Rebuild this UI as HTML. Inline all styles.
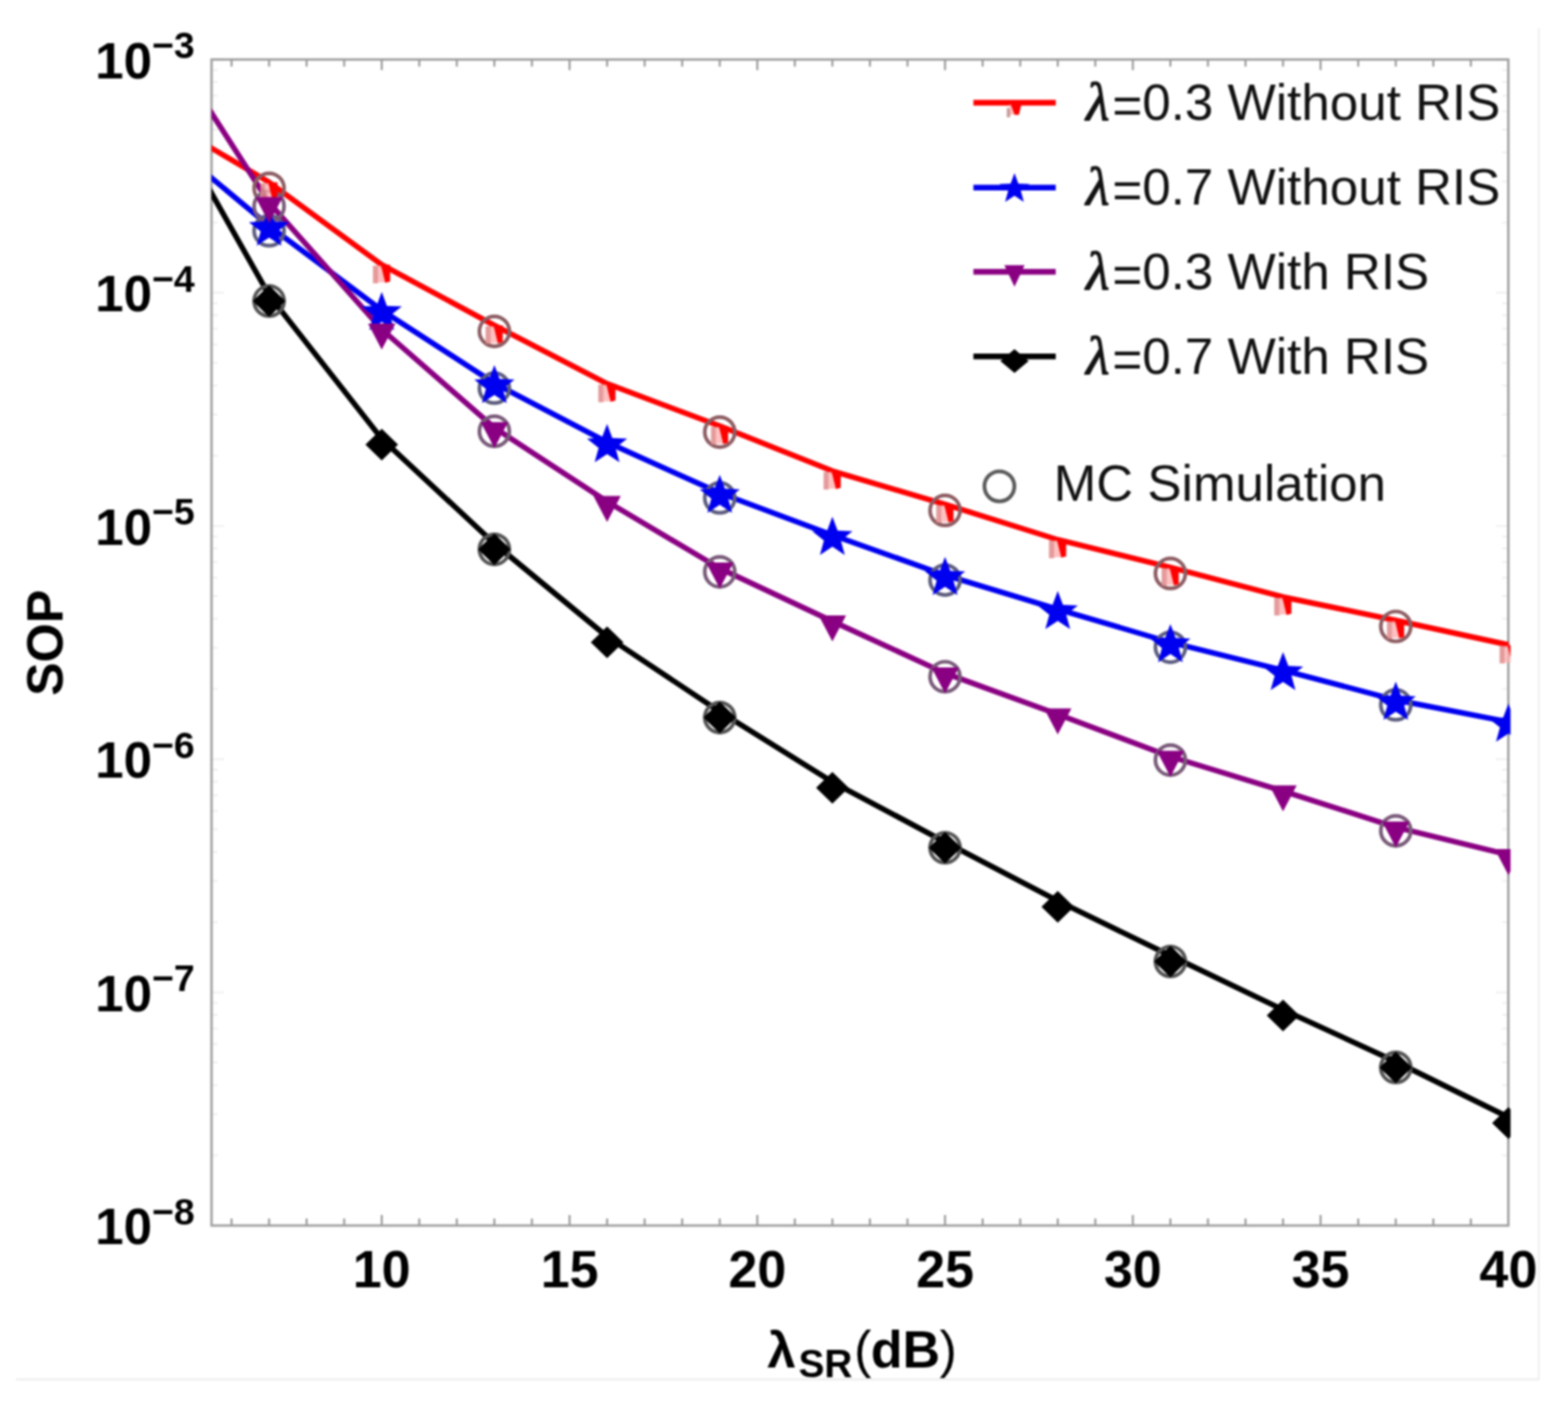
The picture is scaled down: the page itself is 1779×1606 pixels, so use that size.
<!DOCTYPE html>
<html><head><meta charset="utf-8"><title>SOP vs lambda_SR</title>
<style>html,body{margin:0;padding:0;background:#fff;}svg{display:block;filter:blur(1.1px);}</style>
</head><body>
<svg width="1779" height="1606" viewBox="0 0 1779 1606">
<rect x="0" y="0" width="1779" height="1606" fill="#ffffff"/>
<defs><clipPath id="pc"><rect x="240.0" y="67.5" width="1473.8" height="1322.5"/></clipPath></defs>
<line x1="1745.8" y1="32" x2="1745.8" y2="1565" stroke="#eeeeee" stroke-width="2"/>
<line x1="18" y1="1564.5" x2="1746" y2="1564.5" stroke="#ebebeb" stroke-width="2"/>
<path d="M262.7,1390.0 v-8 M262.7,67.5 v8 M305.3,1390.0 v-8 M305.3,67.5 v8 M347.9,1390.0 v-8 M347.9,67.5 v8 M390.5,1390.0 v-8 M390.5,67.5 v8 M433.1,1390.0 v-12 M433.1,67.5 v12 M475.7,1390.0 v-8 M475.7,67.5 v8 M518.3,1390.0 v-8 M518.3,67.5 v8 M560.9,1390.0 v-8 M560.9,67.5 v8 M603.5,1390.0 v-8 M603.5,67.5 v8 M646.2,1390.0 v-12 M646.2,67.5 v12 M688.8,1390.0 v-8 M688.8,67.5 v8 M731.4,1390.0 v-8 M731.4,67.5 v8 M774.0,1390.0 v-8 M774.0,67.5 v8 M816.6,1390.0 v-8 M816.6,67.5 v8 M859.2,1390.0 v-12 M859.2,67.5 v12 M901.8,1390.0 v-8 M901.8,67.5 v8 M944.4,1390.0 v-8 M944.4,67.5 v8 M987.0,1390.0 v-8 M987.0,67.5 v8 M1029.6,1390.0 v-8 M1029.6,67.5 v8 M1072.2,1390.0 v-12 M1072.2,67.5 v12 M1114.9,1390.0 v-8 M1114.9,67.5 v8 M1157.5,1390.0 v-8 M1157.5,67.5 v8 M1200.1,1390.0 v-8 M1200.1,67.5 v8 M1242.7,1390.0 v-8 M1242.7,67.5 v8 M1285.3,1390.0 v-12 M1285.3,67.5 v12 M1327.9,1390.0 v-8 M1327.9,67.5 v8 M1370.5,1390.0 v-8 M1370.5,67.5 v8 M1413.1,1390.0 v-8 M1413.1,67.5 v8 M1455.7,1390.0 v-8 M1455.7,67.5 v8 M1498.3,1390.0 v-12 M1498.3,67.5 v12 M1541.0,1390.0 v-8 M1541.0,67.5 v8 M1583.6,1390.0 v-8 M1583.6,67.5 v8 M1626.2,1390.0 v-8 M1626.2,67.5 v8 M1668.8,1390.0 v-8 M1668.8,67.5 v8" stroke="#969696" stroke-width="2.2" fill="none"/>
<path d="M240.0,67.5 h14 M1711.3,67.5 h-14 M240.0,252.4 h7 M1711.3,252.4 h-7 M240.0,205.8 h7 M1711.3,205.8 h-7 M240.0,172.8 h7 M1711.3,172.8 h-7 M240.0,147.1 h7 M1711.3,147.1 h-7 M240.0,126.2 h7 M1711.3,126.2 h-7 M240.0,108.5 h7 M1711.3,108.5 h-7 M240.0,93.1 h7 M1711.3,93.1 h-7 M240.0,79.6 h7 M1711.3,79.6 h-7 M240.0,332.0 h14 M1711.3,332.0 h-14 M240.0,516.9 h7 M1711.3,516.9 h-7 M240.0,470.3 h7 M1711.3,470.3 h-7 M240.0,437.3 h7 M1711.3,437.3 h-7 M240.0,411.6 h7 M1711.3,411.6 h-7 M240.0,390.7 h7 M1711.3,390.7 h-7 M240.0,373.0 h7 M1711.3,373.0 h-7 M240.0,357.6 h7 M1711.3,357.6 h-7 M240.0,344.1 h7 M1711.3,344.1 h-7 M240.0,596.5 h14 M1711.3,596.5 h-14 M240.0,781.4 h7 M1711.3,781.4 h-7 M240.0,734.8 h7 M1711.3,734.8 h-7 M240.0,701.8 h7 M1711.3,701.8 h-7 M240.0,676.1 h7 M1711.3,676.1 h-7 M240.0,655.2 h7 M1711.3,655.2 h-7 M240.0,637.5 h7 M1711.3,637.5 h-7 M240.0,622.1 h7 M1711.3,622.1 h-7 M240.0,608.6 h7 M1711.3,608.6 h-7 M240.0,861.0 h14 M1711.3,861.0 h-14 M240.0,1045.9 h7 M1711.3,1045.9 h-7 M240.0,999.3 h7 M1711.3,999.3 h-7 M240.0,966.3 h7 M1711.3,966.3 h-7 M240.0,940.6 h7 M1711.3,940.6 h-7 M240.0,919.7 h7 M1711.3,919.7 h-7 M240.0,902.0 h7 M1711.3,902.0 h-7 M240.0,886.6 h7 M1711.3,886.6 h-7 M240.0,873.1 h7 M1711.3,873.1 h-7 M240.0,1125.5 h14 M1711.3,1125.5 h-14 M240.0,1310.4 h7 M1711.3,1310.4 h-7 M240.0,1263.8 h7 M1711.3,1263.8 h-7 M240.0,1230.8 h7 M1711.3,1230.8 h-7 M240.0,1205.1 h7 M1711.3,1205.1 h-7 M240.0,1184.2 h7 M1711.3,1184.2 h-7 M240.0,1166.5 h7 M1711.3,1166.5 h-7 M240.0,1151.1 h7 M1711.3,1151.1 h-7 M240.0,1137.6 h7 M1711.3,1137.6 h-7" stroke="#efefef" stroke-width="2" fill="none"/>
<rect x="240.0" y="67.5" width="1471.3" height="1322.5" fill="none" stroke="#9c9c9c" stroke-width="2.6"/>
<g clip-path="url(#pc)" fill="none" stroke-width="6.2" stroke-linejoin="round">
<path d="M177.4,130.9 L305.3,206.7 L433.1,300.3 L560.9,368.9 L688.8,435.2 L816.6,483.2 L944.4,534.2 L1072.2,572.0 L1200.1,612.1 L1327.9,643.5 L1455.7,677.1 L1583.6,703.6 L1711.4,731.4" stroke="#ff0000"/>
<path d="M177.4,149.6 L305.3,256.2 L433.1,351.8 L560.9,434.7 L688.8,501.6 L816.6,559.2 L944.4,606.8 L1072.2,652.3 L1200.1,691.0 L1327.9,728.6 L1455.7,760.2 L1583.6,793.9 L1711.4,818.7" stroke="#0000f0"/>
<path d="M177.4,30.6 L305.3,229.9 L433.1,373.5 L560.9,485.2 L688.8,568.9 L816.6,644.6 L944.4,704.6 L1072.2,763.5 L1200.1,810.1 L1327.9,858.1 L1455.7,897.2 L1583.6,938.3 L1711.4,969.6" stroke="#8a0082"/>
<path d="M177.4,108.3 L305.3,334.8 L433.1,497.7 L560.9,616.5 L688.8,722.0 L816.6,807.2 L944.4,886.9 L1072.2,954.9 L1200.1,1021.8 L1327.9,1083.9 L1455.7,1145.2 L1583.6,1204.1 L1711.4,1267.1" stroke="#000000"/>
</g>
<g clip-path="url(#pc)" fill="none" stroke-width="4.2">
<circle cx="305.3" cy="213.6" r="17" stroke="#8c5c62"/>
<circle cx="560.9" cy="375.8" r="17" stroke="#8c5c62"/>
<circle cx="816.6" cy="490.1" r="17" stroke="#8c5c62"/>
<circle cx="1072.2" cy="578.9" r="17" stroke="#8c5c62"/>
<circle cx="1327.9" cy="650.4" r="17" stroke="#8c5c62"/>
<circle cx="1583.6" cy="710.5" r="17" stroke="#8c5c62"/>
<circle cx="305.3" cy="261.7" r="17" stroke="#5c5c80"/>
<circle cx="560.9" cy="440.2" r="17" stroke="#5c5c80"/>
<circle cx="816.6" cy="564.7" r="17" stroke="#5c5c80"/>
<circle cx="1072.2" cy="657.8" r="17" stroke="#5c5c80"/>
<circle cx="1327.9" cy="734.1" r="17" stroke="#5c5c80"/>
<circle cx="1583.6" cy="799.4" r="17" stroke="#5c5c80"/>
<circle cx="305.3" cy="233.9" r="17" stroke="#785a78"/>
<circle cx="560.9" cy="489.2" r="17" stroke="#785a78"/>
<circle cx="816.6" cy="648.6" r="17" stroke="#785a78"/>
<circle cx="1072.2" cy="767.5" r="17" stroke="#785a78"/>
<circle cx="1327.9" cy="862.1" r="17" stroke="#785a78"/>
<circle cx="1583.6" cy="942.3" r="17" stroke="#785a78"/>
<circle cx="305.3" cy="341.4" r="17" stroke="#555555"/>
<circle cx="560.9" cy="623.1" r="17" stroke="#555555"/>
<circle cx="816.6" cy="813.8" r="17" stroke="#555555"/>
<circle cx="1072.2" cy="961.5" r="17" stroke="#555555"/>
<circle cx="1327.9" cy="1090.5" r="17" stroke="#555555"/>
<circle cx="1583.6" cy="1210.7" r="17" stroke="#555555"/>
</g>
<g clip-path="url(#pc)">
<rect x="295.3" y="207.7" width="6.0" height="20.0" fill="#e08a8a" opacity="0.85"/>
<path d="M301.3,207.7 L305.3,207.7 L309.3,226.7 L301.3,226.7Z" fill="#ffb0b0" opacity="0.8"/>
<path d="M304.3,206.7 L314.8,206.7 L314.8,225.7 L309.3,227.2Z" fill="#ff0000"/>
<rect x="423.1" y="301.3" width="6.0" height="20.0" fill="#e08a8a" opacity="0.85"/>
<path d="M429.1,301.3 L433.1,301.3 L437.1,320.3 L429.1,320.3Z" fill="#ffb0b0" opacity="0.8"/>
<path d="M432.1,300.3 L442.6,300.3 L442.6,319.3 L437.1,320.8Z" fill="#ff0000"/>
<rect x="550.9" y="369.9" width="6.0" height="20.0" fill="#e08a8a" opacity="0.85"/>
<path d="M556.9,369.9 L560.9,369.9 L564.9,388.9 L556.9,388.9Z" fill="#ffb0b0" opacity="0.8"/>
<path d="M559.9,368.9 L570.4,368.9 L570.4,387.9 L564.9,389.4Z" fill="#ff0000"/>
<rect x="678.8" y="436.2" width="6.0" height="20.0" fill="#e08a8a" opacity="0.85"/>
<path d="M684.8,436.2 L688.8,436.2 L692.8,455.2 L684.8,455.2Z" fill="#ffb0b0" opacity="0.8"/>
<path d="M687.8,435.2 L698.3,435.2 L698.3,454.2 L692.8,455.7Z" fill="#ff0000"/>
<rect x="806.6" y="484.2" width="6.0" height="20.0" fill="#e08a8a" opacity="0.85"/>
<path d="M812.6,484.2 L816.6,484.2 L820.6,503.2 L812.6,503.2Z" fill="#ffb0b0" opacity="0.8"/>
<path d="M815.6,483.2 L826.1,483.2 L826.1,502.2 L820.6,503.7Z" fill="#ff0000"/>
<rect x="934.4" y="535.2" width="6.0" height="20.0" fill="#e08a8a" opacity="0.85"/>
<path d="M940.4,535.2 L944.4,535.2 L948.4,554.2 L940.4,554.2Z" fill="#ffb0b0" opacity="0.8"/>
<path d="M943.4,534.2 L953.9,534.2 L953.9,553.2 L948.4,554.7Z" fill="#ff0000"/>
<rect x="1062.2" y="573.0" width="6.0" height="20.0" fill="#e08a8a" opacity="0.85"/>
<path d="M1068.2,573.0 L1072.2,573.0 L1076.2,592.0 L1068.2,592.0Z" fill="#ffb0b0" opacity="0.8"/>
<path d="M1071.2,572.0 L1081.8,572.0 L1081.8,591.0 L1076.2,592.5Z" fill="#ff0000"/>
<rect x="1190.1" y="613.1" width="6.0" height="20.0" fill="#e08a8a" opacity="0.85"/>
<path d="M1196.1,613.1 L1200.1,613.1 L1204.1,632.1 L1196.1,632.1Z" fill="#ffb0b0" opacity="0.8"/>
<path d="M1199.1,612.1 L1209.6,612.1 L1209.6,631.1 L1204.1,632.6Z" fill="#ff0000"/>
<rect x="1317.9" y="644.5" width="6.0" height="20.0" fill="#e08a8a" opacity="0.85"/>
<path d="M1323.9,644.5 L1327.9,644.5 L1331.9,663.5 L1323.9,663.5Z" fill="#ffb0b0" opacity="0.8"/>
<path d="M1326.9,643.5 L1337.4,643.5 L1337.4,662.5 L1331.9,664.0Z" fill="#ff0000"/>
<rect x="1445.7" y="678.1" width="6.0" height="20.0" fill="#e08a8a" opacity="0.85"/>
<path d="M1451.7,678.1 L1455.7,678.1 L1459.7,697.1 L1451.7,697.1Z" fill="#ffb0b0" opacity="0.8"/>
<path d="M1454.7,677.1 L1465.2,677.1 L1465.2,696.1 L1459.7,697.6Z" fill="#ff0000"/>
<rect x="1573.6" y="704.6" width="6.0" height="20.0" fill="#e08a8a" opacity="0.85"/>
<path d="M1579.6,704.6 L1583.6,704.6 L1587.6,723.6 L1579.6,723.6Z" fill="#ffb0b0" opacity="0.8"/>
<path d="M1582.6,703.6 L1593.1,703.6 L1593.1,722.6 L1587.6,724.1Z" fill="#ff0000"/>
<rect x="1701.4" y="732.4" width="6.0" height="20.0" fill="#e08a8a" opacity="0.85"/>
<path d="M1707.4,732.4 L1711.4,732.4 L1715.4,751.4 L1707.4,751.4Z" fill="#ffb0b0" opacity="0.8"/>
<path d="M1710.4,731.4 L1720.9,731.4 L1720.9,750.4 L1715.4,751.9Z" fill="#ff0000"/>
<path d="M305.3,235.4 L311.2,251.2 L328.1,251.9 L314.9,262.5 L319.4,278.8 L305.3,269.4 L291.2,278.8 L295.7,262.5 L282.4,251.9 L299.3,251.2Z" fill="#0000f0"/>
<path d="M433.1,331.0 L439.0,346.9 L455.9,347.6 L442.7,358.1 L447.2,374.5 L433.1,365.1 L419.0,374.5 L423.5,358.1 L410.3,347.6 L427.2,346.9Z" fill="#0000f0"/>
<path d="M560.9,413.9 L566.9,429.7 L583.8,430.5 L570.5,441.0 L575.0,457.3 L560.9,448.0 L546.8,457.3 L551.3,441.0 L538.1,430.5 L555.0,429.7Z" fill="#0000f0"/>
<path d="M688.8,480.8 L694.7,496.7 L711.6,497.4 L698.3,507.9 L702.9,524.2 L688.8,514.9 L674.7,524.2 L679.2,507.9 L665.9,497.4 L682.8,496.7Z" fill="#0000f0"/>
<path d="M816.6,538.4 L822.5,554.2 L839.4,555.0 L826.2,565.5 L830.7,581.8 L816.6,572.5 L802.5,581.8 L807.0,565.5 L793.8,555.0 L810.7,554.2Z" fill="#0000f0"/>
<path d="M944.4,586.0 L950.3,601.8 L967.2,602.6 L954.0,613.1 L958.5,629.4 L944.4,620.1 L930.3,629.4 L934.8,613.1 L921.6,602.6 L938.5,601.8Z" fill="#0000f0"/>
<path d="M1072.2,631.5 L1078.2,647.4 L1095.1,648.1 L1081.8,658.6 L1086.4,674.9 L1072.2,665.6 L1058.1,674.9 L1062.7,658.6 L1049.4,648.1 L1066.3,647.4Z" fill="#0000f0"/>
<path d="M1200.1,670.2 L1206.0,686.1 L1222.9,686.8 L1209.7,697.3 L1214.2,713.6 L1200.1,704.3 L1186.0,713.6 L1190.5,697.3 L1177.3,686.8 L1194.2,686.1Z" fill="#0000f0"/>
<path d="M1327.9,707.8 L1333.8,723.6 L1350.7,724.3 L1337.5,734.9 L1342.0,751.2 L1327.9,741.8 L1313.8,751.2 L1318.3,734.9 L1305.1,724.3 L1322.0,723.6Z" fill="#0000f0"/>
<path d="M1455.7,739.4 L1461.7,755.2 L1478.6,756.0 L1465.3,766.5 L1469.8,782.8 L1455.7,773.5 L1441.6,782.8 L1446.2,766.5 L1432.9,756.0 L1449.8,755.2Z" fill="#0000f0"/>
<path d="M1583.6,773.1 L1589.5,789.0 L1606.4,789.7 L1593.2,800.2 L1597.7,816.5 L1583.6,807.2 L1569.5,816.5 L1574.0,800.2 L1560.7,789.7 L1577.6,789.0Z" fill="#0000f0"/>
<path d="M1711.4,797.9 L1717.3,813.7 L1734.2,814.5 L1721.0,825.0 L1725.5,841.3 L1711.4,832.0 L1697.3,841.3 L1701.8,825.0 L1688.6,814.5 L1705.5,813.7Z" fill="#0000f0"/>
<path d="M289.8,223.4 L320.8,223.4 L305.3,252.9Z" fill="#8a0082"/>
<path d="M417.6,367.0 L448.6,367.0 L433.1,396.5Z" fill="#8a0082"/>
<path d="M545.4,478.7 L576.4,478.7 L560.9,508.2Z" fill="#8a0082"/>
<path d="M673.3,562.4 L704.3,562.4 L688.8,591.9Z" fill="#8a0082"/>
<path d="M801.1,638.1 L832.1,638.1 L816.6,667.6Z" fill="#8a0082"/>
<path d="M928.9,698.1 L959.9,698.1 L944.4,727.6Z" fill="#8a0082"/>
<path d="M1056.8,757.0 L1087.8,757.0 L1072.2,786.5Z" fill="#8a0082"/>
<path d="M1184.6,803.6 L1215.6,803.6 L1200.1,833.1Z" fill="#8a0082"/>
<path d="M1312.4,851.6 L1343.4,851.6 L1327.9,881.1Z" fill="#8a0082"/>
<path d="M1440.2,890.7 L1471.2,890.7 L1455.7,920.2Z" fill="#8a0082"/>
<path d="M1568.1,931.8 L1599.1,931.8 L1583.6,961.3Z" fill="#8a0082"/>
<path d="M1695.9,963.1 L1726.9,963.1 L1711.4,992.6Z" fill="#8a0082"/>
<path d="M305.3,323.4 L323.8,341.4 L305.3,359.4 L286.8,341.4Z" fill="#000"/>
<path d="M433.1,486.3 L451.6,504.3 L433.1,522.3 L414.6,504.3Z" fill="#000"/>
<path d="M560.9,605.1 L579.4,623.1 L560.9,641.1 L542.4,623.1Z" fill="#000"/>
<path d="M688.8,710.6 L707.3,728.6 L688.8,746.6 L670.3,728.6Z" fill="#000"/>
<path d="M816.6,795.8 L835.1,813.8 L816.6,831.8 L798.1,813.8Z" fill="#000"/>
<path d="M944.4,875.5 L962.9,893.5 L944.4,911.5 L925.9,893.5Z" fill="#000"/>
<path d="M1072.2,943.5 L1090.8,961.5 L1072.2,979.5 L1053.8,961.5Z" fill="#000"/>
<path d="M1200.1,1010.4 L1218.6,1028.4 L1200.1,1046.4 L1181.6,1028.4Z" fill="#000"/>
<path d="M1327.9,1072.5 L1346.4,1090.5 L1327.9,1108.5 L1309.4,1090.5Z" fill="#000"/>
<path d="M1455.7,1133.8 L1474.2,1151.8 L1455.7,1169.8 L1437.2,1151.8Z" fill="#000"/>
<path d="M1583.6,1192.7 L1602.1,1210.7 L1583.6,1228.7 L1565.1,1210.7Z" fill="#000"/>
<path d="M1711.4,1255.7 L1729.9,1273.7 L1711.4,1291.7 L1692.9,1273.7Z" fill="#000"/>
</g>
<line x1="1104.4" y1="116.6" x2="1197.8" y2="116.6" stroke="#ff0000" stroke-width="6.5"/>
<rect x="1142.3" y="122.5" width="3.8" height="10.5" fill="#c89a9a"/>
<path d="M1145.5,118.5 L1146.7,118.5 L1150,130 L1146,130Z" fill="#ffb8b8"/>
<path d="M1146.7,118.5 L1158.8,118.5 L1156,130.2 L1151,130.2Z" fill="#ff0000"/>
<line x1="1104.4" y1="212.8" x2="1197.8" y2="212.8" stroke="#0000f0" stroke-width="6.5"/>
<path d="M1151.0,196.3 L1155.4,208.2 L1168.1,208.7 L1158.2,216.6 L1161.6,228.9 L1151.0,221.9 L1140.4,228.9 L1143.8,216.6 L1133.9,208.7 L1146.6,208.2Z" fill="#0000f0"/>
<line x1="1104.4" y1="308.2" x2="1197.8" y2="308.2" stroke="#8a0082" stroke-width="6.5"/>
<path d="M1139.5,300.7 L1162.5,300.7 L1151.0,325.2Z" fill="#8a0082"/>
<line x1="1104.4" y1="404.3" x2="1197.8" y2="404.3" stroke="#000" stroke-width="6.5"/>
<path d="M1151.0,395.9 L1167.0,409.4 L1151.0,422.9 L1135.0,409.4Z" fill="#000"/>
<circle cx="1133.9" cy="551.6" r="17" fill="none" stroke="#5a5a5a" stroke-width="4.3"/>
<text y="135.8" font-family="Liberation Sans, Arial, sans-serif" font-size="58" fill="#111"><tspan x="1232.3" font-family="Liberation Serif, serif" font-style="italic" font-size="61" stroke="#111" stroke-width="1.3">λ</tspan><tspan x="1262" dy="4" font-size="58.3">=</tspan><tspan x="1296" dy="-4">0.3 Without RIS</tspan></text>
<text y="232.0" font-family="Liberation Sans, Arial, sans-serif" font-size="58" fill="#111"><tspan x="1232.3" font-family="Liberation Serif, serif" font-style="italic" font-size="61" stroke="#111" stroke-width="1.3">λ</tspan><tspan x="1262" dy="4" font-size="58.3">=</tspan><tspan x="1296" dy="-4">0.7 Without RIS</tspan></text>
<text y="328.2" font-family="Liberation Sans, Arial, sans-serif" font-size="58" fill="#111"><tspan x="1232.3" font-family="Liberation Serif, serif" font-style="italic" font-size="61" stroke="#111" stroke-width="1.3">λ</tspan><tspan x="1262" dy="4" font-size="58.3">=</tspan><tspan x="1296" dy="-4">0.3 With RIS</tspan></text>
<text y="424.4" font-family="Liberation Sans, Arial, sans-serif" font-size="58" fill="#111"><tspan x="1232.3" font-family="Liberation Serif, serif" font-style="italic" font-size="61" stroke="#111" stroke-width="1.3">λ</tspan><tspan x="1262" dy="4" font-size="58.3">=</tspan><tspan x="1296" dy="-4">0.7 With RIS</tspan></text>
<text x="1195.5" y="567.8" font-family="Liberation Sans, Arial, sans-serif" font-size="58" fill="#111">MC Simulation</text>
<text x="108" y="88.5" font-family="Liberation Sans, Arial, sans-serif" font-weight="bold" font-size="58" fill="#000">10<tspan dy="-22.5" font-size="42.5">−3</tspan></text>
<text x="108" y="353.0" font-family="Liberation Sans, Arial, sans-serif" font-weight="bold" font-size="58" fill="#000">10<tspan dy="-22.5" font-size="42.5">−4</tspan></text>
<text x="108" y="617.5" font-family="Liberation Sans, Arial, sans-serif" font-weight="bold" font-size="58" fill="#000">10<tspan dy="-22.5" font-size="42.5">−5</tspan></text>
<text x="108" y="882.0" font-family="Liberation Sans, Arial, sans-serif" font-weight="bold" font-size="58" fill="#000">10<tspan dy="-22.5" font-size="42.5">−6</tspan></text>
<text x="108" y="1146.5" font-family="Liberation Sans, Arial, sans-serif" font-weight="bold" font-size="58" fill="#000">10<tspan dy="-22.5" font-size="42.5">−7</tspan></text>
<text x="108" y="1411.0" font-family="Liberation Sans, Arial, sans-serif" font-weight="bold" font-size="58" fill="#000">10<tspan dy="-22.5" font-size="42.5">−8</tspan></text>
<text x="433.1" y="1460.3" font-family="Liberation Sans, Arial, sans-serif" font-weight="bold" font-size="59" text-anchor="middle" fill="#000">10</text>
<text x="646.2" y="1460.3" font-family="Liberation Sans, Arial, sans-serif" font-weight="bold" font-size="59" text-anchor="middle" fill="#000">15</text>
<text x="859.2" y="1460.3" font-family="Liberation Sans, Arial, sans-serif" font-weight="bold" font-size="59" text-anchor="middle" fill="#000">20</text>
<text x="1072.2" y="1460.3" font-family="Liberation Sans, Arial, sans-serif" font-weight="bold" font-size="59" text-anchor="middle" fill="#000">25</text>
<text x="1285.3" y="1460.3" font-family="Liberation Sans, Arial, sans-serif" font-weight="bold" font-size="59" text-anchor="middle" fill="#000">30</text>
<text x="1498.3" y="1460.3" font-family="Liberation Sans, Arial, sans-serif" font-weight="bold" font-size="59" text-anchor="middle" fill="#000">35</text>
<text x="1711.4" y="1460.3" font-family="Liberation Sans, Arial, sans-serif" font-weight="bold" font-size="59" text-anchor="middle" fill="#000">40</text>
<text transform="translate(70.6,729) rotate(-90)" font-family="Liberation Sans, Arial, sans-serif" font-weight="bold" font-size="57" text-anchor="middle" fill="#000">SOP</text>
<text y="1551" font-family="Liberation Sans, Arial, sans-serif" font-weight="bold" font-size="59" fill="#000"><tspan x="870.4" font-size="58">λ</tspan><tspan x="906" y="1562" font-size="44">SR</tspan><tspan x="969" y="1551" font-weight="normal">(</tspan><tspan x="988">dB</tspan><tspan x="1066" font-weight="normal">)</tspan></text>
</svg>
</body></html>
